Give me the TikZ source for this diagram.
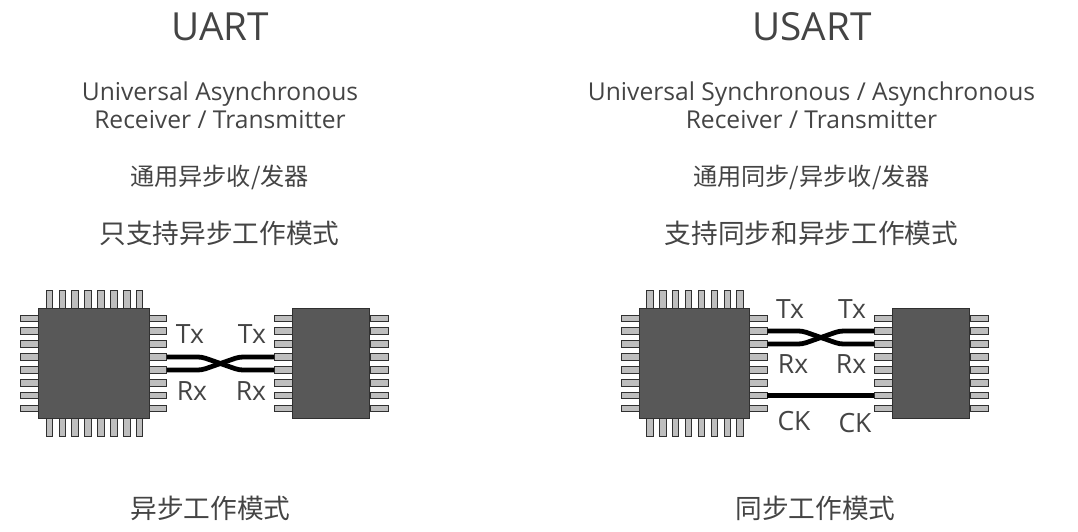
\documentclass[tikz,border=0pt]{standalone}
\usepackage{fontspec}
\setmainfont{Open Sans}
\newfontfamily\cjk{Noto Sans CJK SC}
\definecolor{txt}{HTML}{444444}
\definecolor{chipfill}{HTML}{585858}
\definecolor{pinfill}{HTML}{BEBEBE}
\definecolor{edge}{HTML}{303030}
\tikzset{
  x=1pt,y=-1pt,
  chipbody/.style={draw=edge,line width=0.9pt,fill=chipfill,inner sep=0pt,outer sep=0pt},
  hpin/.style={draw=edge,line width=0.9pt,fill=pinfill,minimum width=18pt,minimum height=6.5pt,inner sep=0pt,outer sep=0pt},
  vpin/.style={draw=edge,line width=0.9pt,fill=pinfill,minimum width=6.5pt,minimum height=18pt,inner sep=0pt,outer sep=0pt},
  wire/.style={draw=black,line width=4.8pt,rounded corners=4pt},
  heading/.style={text=txt,font=\fontsize{38.7}{42}\selectfont,inner sep=0pt},
  sub/.style={text=txt,font=\fontsize{24.6}{28.5}\selectfont,align=center,inner sep=0pt},
  cn/.style={text=txt,font=\cjk\fontsize{24.2}{28}\selectfont,inner sep=0pt},
  cnbig/.style={text=txt,font=\cjk\fontsize{26.7}{30}\selectfont,inner sep=0pt},
  sig/.style={text=txt,font=\fontsize{26.5}{30}\selectfont,inner sep=0pt},
}
\newcommand{\pinrows}[2]{% prefix, centre x
  \foreach \i/\py in {1/318.3,2/331,3/344,4/357,5/370,6/382.7,7/395.3,8/408.3}
    \node[hpin] (#1\i) at (#2,\py) {};
}
\newcommand{\pincols}[3]{% prefix, centre y, x offset
  \foreach \i/\px in {1/49.3,2/62.2,3/75.1,4/88,5/100.9,6/113.8,7/126.7,8/139.6}
    \node[vpin] (#1\i) at ({\px+#3},#2) {};
}
\begin{document}
\begin{tikzpicture}
\useasboundingbox (0,0) rectangle (1078,532);
% titles
\node[heading] (t1) at (220,27) {UART};
\node[heading] (t2) at (812,27) {USART};
\node[sub] (s1) at (220,105.5) {Universal Asynchronous\\Receiver / Transmitter};
\node[sub] (s2) at (811.5,105.5) {Universal Synchronous / Asynchronous\\Receiver / Transmitter};
\node[cn] (c1) at (219.5,177.5) {通用异步收/发器};
\node[cn] (c2) at (811.5,177.5) {通用同步/异步收/发器};
\node[cnbig] (d1) at (219.5,233) {只支持异步工作模式};
\node[cnbig] (d2) at (811.5,233) {支持同步和异步工作模式};
\node[cnbig] (e1) at (210.5,508) {异步工作模式};
\node[cnbig] (e2) at (815.5,508) {同步工作模式};
% left pair
\pinrows{al}{29.7}
\pinrows{ar}{157.9}
\pincols{at}{299.9}{0}
\pincols{ab}{427.9}{0}
\node[chipbody,minimum width=110.3pt,minimum height=110pt] (achip) at (93.85,363.7) {};
\pinrows{bl}{283}
\pinrows{br}{379}
\node[chipbody,minimum width=77.3pt,minimum height=110pt] (bchip) at (330.65,363.7) {};
% right pair
\pinrows{cl}{630.2}
\pinrows{cr}{758.4}
\pincols{ct}{299.9}{600.5}
\pincols{cb}{427.9}{600.5}
\node[chipbody,minimum width=110.3pt,minimum height=110pt] (cchip) at (694.35,363.7) {};
\pinrows{dl}{883.4}
\pinrows{dr}{979.5}
\node[chipbody,minimum width=77.3pt,minimum height=110pt] (dchip) at (931,363.7) {};
% wires
\draw[wire] (ar4.east) -- ++(35,0) -- ++(37,13) -- (bl5.west);
\draw[wire] (ar5.east) -- ++(35,0) -- ++(37,-13) -- (bl4.west);
\draw[wire] (cr2.east) -- ++(35,0) -- ++(37,13) -- (dl3.west);
\draw[wire] (cr3.east) -- ++(35,0) -- ++(37,-13) -- (dl2.west);
\draw[wire] (cr7.east) -- (dl7.west);
% signal labels
\node[sig] (l1) at (190,334) {Tx};
\node[sig] (l2) at (252,334) {Tx};
\node[sig] (l3) at (192,391) {Rx};
\node[sig] (l4) at (251,391) {Rx};
\node[sig] (l5) at (790,309) {Tx};
\node[sig] (l6) at (852,309) {Tx};
\node[sig] (l7) at (793,364) {Rx};
\node[sig] (l8) at (851,364) {Rx};
\node[sig] (l9) at (794,421) {CK};
\node[sig] (l10) at (855,423) {CK};
\end{tikzpicture}
\end{document}
